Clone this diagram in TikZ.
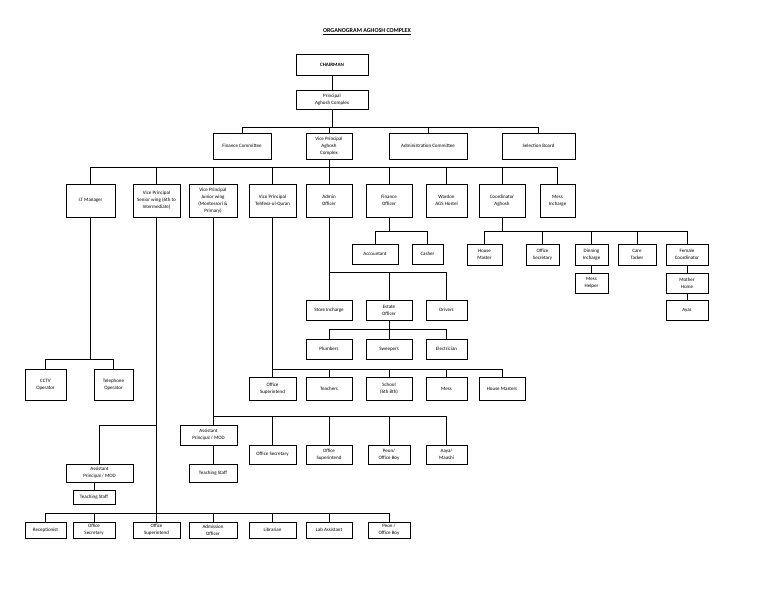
\documentclass[tikz,border=0pt]{standalone}
\usepackage{fontspec}
\setmainfont{Carlito}
\begin{document}
\begin{tikzpicture}[x=1pt,y=-1pt,line width=0.8pt,
  bx/.style={draw,line width=0.8pt,inner sep=0pt,align=center,font=\fontsize{5}{7}\selectfont}]
\useasboundingbox (0,0) rectangle (768,594);
\newcommand\bx[6]{\node[bx,minimum width={(#4-#2)*1pt},minimum height={(#5-#3)*1pt}] (#1) at ({(#2+#4)/2},{(#3+#5)/2}) {#6};}
\node[font=\fontsize{6}{7}\selectfont\bfseries] (title) at (367,32) {\underline{ORGANOGRAM AGHOSH COMPLEX}};
\bx{chair}{296}{54}{368}{75}{\textbf{CHAIRMAN}}
\bx{prin}{296}{90}{368}{109}{Principal\\Aghosh Complex}
\bx{fc}{213}{133}{271}{159}{Finance Committee}
\bx{vpa}{306}{133}{352}{159}{Vice Principal\\Aghosh\\Complex}
\bx{ac}{389}{133}{467}{159}{Administration Committee}
\bx{sb}{502}{133}{575}{159}{Selection Board}
\bx{lt}{66}{184}{115}{217}{I.T Manager}
\bx{vps}{133}{184}{180}{217}{Vice Principal\\Senior wing (6th to\\Intermediate)}
\bx{vpj}{189}{184}{237}{217}{Vice Principal\\Junior wing\\(Montessori \&\\Primary)}
\bx{vpt}{249}{184}{296}{217}{Vice Principal\\Tehfeez-ul-Quran}
\bx{ao}{306}{184}{352}{217}{Admin\\Officer}
\bx{fo}{366}{184}{412}{217}{Finance\\Officer}
\bx{wa}{426}{184}{467}{217}{Wardon\\AGS Hostel}
\bx{co}{479}{184}{525}{217}{Coordinator\\Aghosh}
\bx{mi}{540}{184}{575}{217}{Mess\\Incharge}
\bx{acc}{352}{244}{398}{264}{Accountant}
\bx{cas}{412}{244}{443}{264}{Casher}
\bx{hm}{467}{244}{502}{265}{House\\Master}
\bx{os1}{526}{244}{559}{265}{Office\\Secretary}
\bx{di}{575}{244}{608}{265}{Dinning\\Incharge}
\bx{ct}{618}{244}{656}{265}{Care\\Tacker}
\bx{fcr}{666}{244}{708}{265}{Female\\Coordinator}
\bx{mh}{575}{273}{608}{293}{Mess\\Helper}
\bx{mho}{666}{273}{708}{293}{Mother\\Home}
\bx{ay}{666}{300}{708}{320}{Ayas}
\bx{si}{306}{300}{352}{320}{Store Incharge}
\bx{eo}{366}{300}{412}{320}{Estate\\Officer}
\bx{dr}{426}{300}{467}{320}{Drivers}
\bx{pl}{306}{339}{352}{359}{Plumbers}
\bx{sw}{366}{339}{412}{359}{Sweepers}
\bx{el}{426}{339}{467}{359}{Electrician}
\bx{cctv}{25}{369}{66}{400}{CCTV\\Operator}
\bx{tel}{94}{369}{133}{400}{Telephone\\Operator}
\bx{ost}{249}{377}{296}{400}{Office\\Superintend}
\bx{te}{306}{377}{352}{400}{Teachers}
\bx{sc}{366}{377}{412}{400}{School\\(6th 8th)}
\bx{me}{426}{377}{467}{400}{Mess}
\bx{hms}{479}{377}{525}{400}{House Masters}
\bx{ap1}{180}{425}{237}{445}{Assistant\\Principal / MOD}
\bx{ts1}{189}{464}{237}{482}{Teaching Staff}
\bx{os2}{249}{445}{296}{464}{Office Secretary}
\bx{osu2}{306}{445}{352}{464}{Office\\Superintend}
\bx{pe2}{368}{445}{410}{464}{Peon/\\Office Boy}
\bx{aa}{426}{445}{467}{464}{Aaya/\\Maashi}
\bx{ap2}{66}{464}{133}{482}{Assistant\\Principal / MOD}
\bx{ts2}{73}{490}{115}{504}{Teaching Staff}
\bx{rec}{25}{522}{66}{538}{Receptionist}
\bx{os3}{73}{522}{115}{538}{Office\\Secretary}
\bx{osu3}{133}{522}{180}{538}{Office\\Superintend}
\bx{adm}{189}{522}{237}{538}{Admission\\Officer}
\bx{lib}{249}{522}{296}{538}{Librarian}
\bx{lab}{306}{522}{352}{538}{Lab Assistant}
\bx{pe3}{368}{522}{410}{538}{Peon /\\Office Boy}
% bus coordinates
\coordinate (b1) at (0,127); \coordinate (b2) at (0,167); \coordinate (b3) at (0,231);
\coordinate (b4) at (0,272); \coordinate (b5) at (0,329); \coordinate (b6) at (0,359);
\coordinate (b6b) at (0,369); \coordinate (b7) at (0,416); \coordinate (b8) at (0,425);
\coordinate (b9) at (0,513);
\draw (chair) -- (prin);
\draw (prin.south) -- (prin.south|-b1);
\draw (fc.north) |- (b1-|sb.north) -- (sb.north);
\draw (ac.north) -- (ac.north|-b1);
\draw (vpa.north) -- (vpa.north|-b1);
\draw (vpa.south) -- (ao.north);
\draw (lt.north) |- (b2-|mi.north) -- (mi.north);
\foreach \n in {vps,vpj,vpt,fo,wa,co} \draw (\n.north) -- (\n.north|-b2);
\draw (fo.south) -- (fo.south|-b3);
\draw (acc.north) |- (b3-|cas.north) -- (cas.north);
\draw (co.south) -- (co.south|-b3);
\draw (hm.north) |- (b3-|fcr.north) -- (fcr.north);
\foreach \n in {os1,di,ct} \draw (\n.north) -- (\n.north|-b3);
\draw (di) -- (mh); \draw (fcr) -- (mho); \draw (mho) -- (ay);
\draw (ao.south) -- (si.north);
\draw (ao.south|-b4) -| (dr.north);
\draw (eo.north) -- (eo.north|-b4);
\draw (eo.south) -- (eo.south|-b5);
\draw (pl.north) |- (b5-|el.north) -- (el.north);
\draw (sw.north) -- (sw.north|-b5);
\draw (lt.south) -- (lt.south|-b6);
\draw (cctv.north) |- (b6-|tel.north) -- (tel.north);
\draw (vpt.south) -- (ost.north);
\draw (ost.north|-b6b) -| (hms.north);
\foreach \n in {te,sc,me} \draw (\n.north) -- (\n.north|-b6b);
\draw (vpj.south) -- (vpj.south|-ap1.north);
\draw (vpj.south|-b7) -| (aa.north);
\foreach \n in {os2,osu2,pe2} \draw (\n.north) -- (\n.north|-b7);
\draw (ts1.north|-ap1.south) -- (ts1.north);
\draw (vps.south) -- (osu3.north);
\draw (vps.south|-b8) -| (ap2.north);
\draw (ts2.north|-ap2.south) -- (ts2.north);
\draw (rec.north) |- (b9-|pe3.north) -- (pe3.north);
\foreach \n in {os3,adm,lib,lab} \draw (\n.north) -- (\n.north|-b9);
\end{tikzpicture}
\end{document}
